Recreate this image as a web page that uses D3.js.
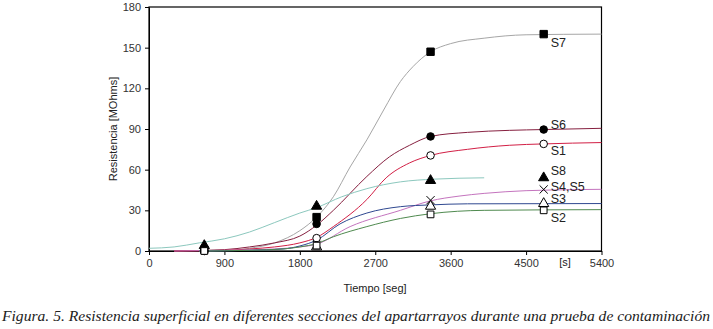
<!DOCTYPE html>
<html>
<head>
<meta charset="utf-8">
<script src="https://cdn.jsdelivr.net/npm/d3@7"></script>
<style>
  body { margin: 0; background: #fff; }
  svg { display: block; }
  .tick text { font-family: "Liberation Sans", Arial, sans-serif; font-size: 11px; fill: #333; }
</style>
</head>
<body>
<div id="chart"></div>
<script>
// curve knots [tiempo (s), resistencia (MOhms)]
var s7Curve = [[600,0],[900,0.3],[1200,2],[1500,6],[1800,15],[2000,25],[2200,40],[2400,62],[2600,82],[2800,104],[3000,125],[3150,136],[3360,147],[3600,153],[4000,157],[4500,159.5],[5400,160]];
var s6Curve = [[300,0],[900,1],[1200,3],[1500,6],[1800,11],[2000,19],[2200,30],[2600,55],[2870,69.5],[3110,78],[3360,84.5],[3800,87.5],[4300,89],[4710,89.6],[5400,90.5]];
var s1Curve = [[300,0],[900,0.5],[1200,1.5],[1500,3],[1800,6],[2000,10],[2200,18],[2600,38],[2830,54],[3110,65],[3360,70.5],[3800,75],[4300,78],[4710,79],[5400,80]];
var s8Curve = [[0,2],[300,3],[600,6],[900,9],[1200,14],[1500,21],[1800,28],[2000,32],[2300,40],[2600,46],[3000,51],[3400,53],[4000,54]];
var s45Curve = [[300,0],[900,0.5],[1500,1.5],[1800,3],[2000,5],[2400,18],[3000,30],[3360,37],[3700,40.5],[4000,42.5],[4500,44.5],[4800,45],[5400,45.5]];
var s3Curve = [[600,0],[1200,0.5],[1600,1.5],[1800,3.7],[2000,8],[2280,20],[2600,28],[3000,32.7],[3360,34],[3800,34.8],[5400,35]];
var s2Curve = [[600,0],[1200,0.5],[1600,1.5],[1800,3],[2000,5.5],[2200,10.5],[2600,18],[3000,24],[3360,27.5],[4000,30],[5400,30.5]];

// measured points
var markTimes = [660, 2000, 3360, 4710];
var s7Marks = [1, 25, 147, 160];
var s6Marks = [0, 20, 84.5, 89.6];
var s1Marks = [null, 9.5, 70.5, 79];
var s8Marks = [4, 33, 52, 54];
var s45Marks = [null, 4.5, 37.5, 45.4];
var s3Marks = [null, 3, 33, 35];
var s2Marks = [0, 4, 27, 30];

var seriesNames = ["S7", "S6", "S1", "S8", "S4,S5", "S3", "S2"];
var xTicks = [0, 900, 1800, 2700, 3600, 4500, 5400];
var yTicks = [0, 30, 60, 90, 120, 150, 180];

var series = [
  {curve: s7Curve, marks: s7Marks, color: "#a6a6a6", sym: d3.symbolSquare, fill: true, size: 55, dy: 13},
  {curve: s6Curve, marks: s6Marks, color: "#862040", sym: d3.symbolCircle, fill: true, size: 45, dy: -1},
  {curve: s1Curve, marks: s1Marks, color: "#d21f45", sym: d3.symbolCircle, fill: false, size: 45, dy: 11},
  {curve: s8Curve, marks: s8Marks, color: "#8cc8be", sym: d3.symbolTriangle, fill: true, size: 45, dy: -3},
  {curve: s45Curve, marks: s45Marks, color: "#c474be", sym: d3.symbolTimes, fill: false, size: 45, dy: 2},
  {curve: s3Curve, marks: s3Marks, color: "#2f4890", sym: d3.symbolTriangle, fill: false, size: 45, dy: -1},
  {curve: s2Curve, marks: s2Marks, color: "#4f8a4f", sym: d3.symbolSquare, fill: false, size: 45, dy: 12}
];
series.forEach(function(s, i) { s.name = seriesNames[i]; });

var W = 713, H = 329;
var plotL = 149, plotR = 601.5, plotT = 7, plotB = 251;

var svg = d3.select("#chart").append("svg")
    .attr("width", W)
    .attr("height", H);

var x = d3.scaleLinear().domain([0, 5400]).range([plotL, plotR]);
var y = d3.scaleLinear().domain([0, 180]).range([plotB, plotT]);

// axes
svg.append("g")
    .attr("transform", "translate(0," + plotB + ")")
    .call(d3.axisBottom(x).tickValues(xTicks).tickFormat(d3.format("d")).tickSize(4).tickSizeOuter(0).tickPadding(4));

svg.append("g")
    .attr("transform", "translate(" + plotL + ",0)")
    .call(d3.axisLeft(y).tickValues(yTicks).tickFormat(d3.format("d")).tickSize(4).tickSizeOuter(0).tickPadding(4));

svg.selectAll(".domain").attr("stroke", "#000");
svg.selectAll(".tick line").attr("stroke", "#000");

// frame
svg.append("rect")
    .attr("x", plotL).attr("y", plotT)
    .attr("width", plotR - plotL).attr("height", plotB - plotT)
    .attr("fill", "none").attr("stroke", "#000").attr("stroke-width", 1.2);

var line = d3.line()
    .x(function(d) { return x(d[0]); })
    .y(function(d) { return y(d[1]); })
    .curve(d3.curveMonotoneX);

// curves
svg.selectAll(".curve")
    .data(series)
    .enter()
    .append("path")
    .attr("class", "curve")
    .attr("d", function(d) { return line(d.curve); })
    .attr("fill", "none")
    .attr("stroke", function(d) { return d.color; })
    .attr("stroke-width", 1);

// markers
series.forEach(function(s) {
  var pts = markTimes.map(function(t, i) { return [t, s.marks[i]]; })
    .filter(function(p) { return p[1] !== null; });
  svg.selectAll(null)
    .data(pts)
    .enter()
    .append("path")
    .attr("transform", function(d) { return "translate(" + x(d[0]) + "," + y(d[1]) + ")"; })
    .attr("d", d3.symbol().type(s.sym).size(s.size))
    .attr("fill", s.fill ? "#000" : (s.sym === d3.symbolTimes ? "none" : "#fff"))
    .attr("stroke", "#000")
    .attr("stroke-width", 1);
});

// series labels
svg.selectAll(".slabel")
    .data(series)
    .enter()
    .append("text")
    .attr("class", "slabel")
    .attr("x", x(markTimes[3]) + 7)
    .attr("y", function(d) { return y(d.marks[3]) + d.dy; })
    .attr("font-family", "Liberation Sans, Arial, sans-serif")
    .attr("font-size", 12.5)
    .attr("fill", "#222")
    .text(function(d) { return d.name; });

// axis titles
svg.append("text")
    .attr("transform", "translate(117," + ((plotT + plotB) / 2) + ") rotate(-90)")
    .attr("text-anchor", "middle")
    .attr("font-family", "Liberation Sans, Arial, sans-serif")
    .attr("font-size", 11)
    .attr("fill", "#222")
    .text("Resistencia [MOhms]");

svg.append("text")
    .attr("x", 375).attr("y", 292)
    .attr("text-anchor", "middle")
    .attr("font-family", "Liberation Sans, Arial, sans-serif")
    .attr("font-size", 11)
    .attr("fill", "#222")
    .text("Tiempo [seg]");

svg.append("text")
    .attr("x", 565).attr("y", 266)
    .attr("text-anchor", "middle")
    .attr("font-family", "Liberation Sans, Arial, sans-serif")
    .attr("font-size", 11)
    .attr("fill", "#222")
    .text("[s]");

// caption
svg.append("text")
    .attr("x", 2).attr("y", 321)
    .attr("font-family", "Liberation Serif, serif")
    .attr("font-style", "italic")
    .attr("font-size", 15)
    .attr("fill", "#222")
    .attr("textLength", 708)
    .attr("lengthAdjust", "spacingAndGlyphs")
    .text("Figura. 5. Resistencia superficial en diferentes secciones del apartarrayos durante una prueba de contaminación");
</script>
</body>
</html>
